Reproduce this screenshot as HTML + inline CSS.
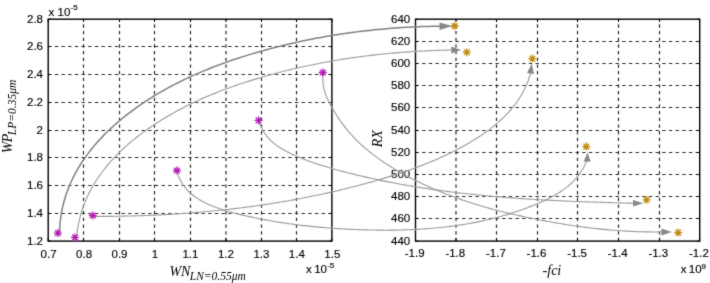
<!DOCTYPE html>
<html><head><meta charset="utf-8"><style>
html,body{margin:0;padding:0;background:#fff;}
body{width:710px;height:283px;overflow:hidden;}
svg{display:block;}
</style></head><body>
<svg width="710" height="283" viewBox="0 0 710 283">
<defs><filter id="bl" x="0" y="0" width="710" height="283" filterUnits="userSpaceOnUse"><feConvolveMatrix order="3" kernelMatrix="0.02 0.08 0.02 0.08 0.60 0.08 0.02 0.08 0.02" divisor="1" edgeMode="none"/></filter></defs>
<rect width="710" height="283" fill="#fff"/>
<g filter="url(#bl)">
<line x1="83.50" y1="241.10" x2="83.50" y2="19.20" stroke="#262626" stroke-width="1.2" stroke-dasharray="3.3 3.37"/>
<line x1="119.50" y1="241.10" x2="119.50" y2="19.20" stroke="#262626" stroke-width="1.2" stroke-dasharray="3.3 3.37"/>
<line x1="154.50" y1="241.10" x2="154.50" y2="19.20" stroke="#262626" stroke-width="1.2" stroke-dasharray="3.3 3.37"/>
<line x1="190.50" y1="241.10" x2="190.50" y2="19.20" stroke="#262626" stroke-width="1.2" stroke-dasharray="3.3 3.37"/>
<line x1="226.00" y1="241.10" x2="226.00" y2="19.20" stroke="#262626" stroke-width="1.2" stroke-dasharray="3.3 3.37"/>
<line x1="261.50" y1="241.10" x2="261.50" y2="19.20" stroke="#262626" stroke-width="1.2" stroke-dasharray="3.3 3.37"/>
<line x1="296.50" y1="241.10" x2="296.50" y2="19.20" stroke="#262626" stroke-width="1.2" stroke-dasharray="3.3 3.37"/>
<line x1="48.20" y1="213.50" x2="331.90" y2="213.50" stroke="#262626" stroke-width="1.2" stroke-dasharray="3.3 3.37"/>
<line x1="48.20" y1="185.50" x2="331.90" y2="185.50" stroke="#262626" stroke-width="1.2" stroke-dasharray="3.3 3.37"/>
<line x1="48.20" y1="157.50" x2="331.90" y2="157.50" stroke="#262626" stroke-width="1.2" stroke-dasharray="3.3 3.37"/>
<line x1="48.20" y1="130.50" x2="331.90" y2="130.50" stroke="#262626" stroke-width="1.2" stroke-dasharray="3.3 3.37"/>
<line x1="48.20" y1="102.50" x2="331.90" y2="102.50" stroke="#262626" stroke-width="1.2" stroke-dasharray="3.3 3.37"/>
<line x1="48.20" y1="74.50" x2="331.90" y2="74.50" stroke="#262626" stroke-width="1.2" stroke-dasharray="3.3 3.37"/>
<line x1="48.20" y1="46.50" x2="331.90" y2="46.50" stroke="#262626" stroke-width="1.2" stroke-dasharray="3.3 3.37"/>
<line x1="48.20" y1="241.10" x2="48.20" y2="238.30" stroke="#000" stroke-width="1"/>
<line x1="48.20" y1="19.20" x2="48.20" y2="22.00" stroke="#000" stroke-width="1"/>
<line x1="83.50" y1="241.10" x2="83.50" y2="238.30" stroke="#000" stroke-width="1"/>
<line x1="83.50" y1="19.20" x2="83.50" y2="22.00" stroke="#000" stroke-width="1"/>
<line x1="119.50" y1="241.10" x2="119.50" y2="238.30" stroke="#000" stroke-width="1"/>
<line x1="119.50" y1="19.20" x2="119.50" y2="22.00" stroke="#000" stroke-width="1"/>
<line x1="154.50" y1="241.10" x2="154.50" y2="238.30" stroke="#000" stroke-width="1"/>
<line x1="154.50" y1="19.20" x2="154.50" y2="22.00" stroke="#000" stroke-width="1"/>
<line x1="190.50" y1="241.10" x2="190.50" y2="238.30" stroke="#000" stroke-width="1"/>
<line x1="190.50" y1="19.20" x2="190.50" y2="22.00" stroke="#000" stroke-width="1"/>
<line x1="226.00" y1="241.10" x2="226.00" y2="238.30" stroke="#000" stroke-width="1"/>
<line x1="226.00" y1="19.20" x2="226.00" y2="22.00" stroke="#000" stroke-width="1"/>
<line x1="261.50" y1="241.10" x2="261.50" y2="238.30" stroke="#000" stroke-width="1"/>
<line x1="261.50" y1="19.20" x2="261.50" y2="22.00" stroke="#000" stroke-width="1"/>
<line x1="296.50" y1="241.10" x2="296.50" y2="238.30" stroke="#000" stroke-width="1"/>
<line x1="296.50" y1="19.20" x2="296.50" y2="22.00" stroke="#000" stroke-width="1"/>
<line x1="331.90" y1="241.10" x2="331.90" y2="238.30" stroke="#000" stroke-width="1"/>
<line x1="331.90" y1="19.20" x2="331.90" y2="22.00" stroke="#000" stroke-width="1"/>
<line x1="48.20" y1="241.10" x2="51.00" y2="241.10" stroke="#000" stroke-width="1"/>
<line x1="331.90" y1="241.10" x2="329.10" y2="241.10" stroke="#000" stroke-width="1"/>
<line x1="48.20" y1="213.50" x2="51.00" y2="213.50" stroke="#000" stroke-width="1"/>
<line x1="331.90" y1="213.50" x2="329.10" y2="213.50" stroke="#000" stroke-width="1"/>
<line x1="48.20" y1="185.50" x2="51.00" y2="185.50" stroke="#000" stroke-width="1"/>
<line x1="331.90" y1="185.50" x2="329.10" y2="185.50" stroke="#000" stroke-width="1"/>
<line x1="48.20" y1="157.50" x2="51.00" y2="157.50" stroke="#000" stroke-width="1"/>
<line x1="331.90" y1="157.50" x2="329.10" y2="157.50" stroke="#000" stroke-width="1"/>
<line x1="48.20" y1="130.50" x2="51.00" y2="130.50" stroke="#000" stroke-width="1"/>
<line x1="331.90" y1="130.50" x2="329.10" y2="130.50" stroke="#000" stroke-width="1"/>
<line x1="48.20" y1="102.50" x2="51.00" y2="102.50" stroke="#000" stroke-width="1"/>
<line x1="331.90" y1="102.50" x2="329.10" y2="102.50" stroke="#000" stroke-width="1"/>
<line x1="48.20" y1="74.50" x2="51.00" y2="74.50" stroke="#000" stroke-width="1"/>
<line x1="331.90" y1="74.50" x2="329.10" y2="74.50" stroke="#000" stroke-width="1"/>
<line x1="48.20" y1="46.50" x2="51.00" y2="46.50" stroke="#000" stroke-width="1"/>
<line x1="331.90" y1="46.50" x2="329.10" y2="46.50" stroke="#000" stroke-width="1"/>
<line x1="48.20" y1="19.20" x2="51.00" y2="19.20" stroke="#000" stroke-width="1"/>
<line x1="331.90" y1="19.20" x2="329.10" y2="19.20" stroke="#000" stroke-width="1"/>
<rect x="48.20" y="19.20" width="283.70" height="221.90" fill="none" stroke="#000" stroke-width="1.4"/>
<text x="48.60" y="257.5" text-anchor="middle" style="font-family:'Liberation Sans',Arial,sans-serif;font-size:11.5px;fill:#000;stroke:#000;stroke-width:0.15px">0.7</text>
<text x="84.06" y="257.5" text-anchor="middle" style="font-family:'Liberation Sans',Arial,sans-serif;font-size:11.5px;fill:#000;stroke:#000;stroke-width:0.15px">0.8</text>
<text x="119.52" y="257.5" text-anchor="middle" style="font-family:'Liberation Sans',Arial,sans-serif;font-size:11.5px;fill:#000;stroke:#000;stroke-width:0.15px">0.9</text>
<text x="154.99" y="257.5" text-anchor="middle" style="font-family:'Liberation Sans',Arial,sans-serif;font-size:11.5px;fill:#000;stroke:#000;stroke-width:0.15px">1</text>
<text x="190.45" y="257.5" text-anchor="middle" style="font-family:'Liberation Sans',Arial,sans-serif;font-size:11.5px;fill:#000;stroke:#000;stroke-width:0.15px">1.1</text>
<text x="225.91" y="257.5" text-anchor="middle" style="font-family:'Liberation Sans',Arial,sans-serif;font-size:11.5px;fill:#000;stroke:#000;stroke-width:0.15px">1.2</text>
<text x="261.38" y="257.5" text-anchor="middle" style="font-family:'Liberation Sans',Arial,sans-serif;font-size:11.5px;fill:#000;stroke:#000;stroke-width:0.15px">1.3</text>
<text x="296.84" y="257.5" text-anchor="middle" style="font-family:'Liberation Sans',Arial,sans-serif;font-size:11.5px;fill:#000;stroke:#000;stroke-width:0.15px">1.4</text>
<text x="332.30" y="257.5" text-anchor="middle" style="font-family:'Liberation Sans',Arial,sans-serif;font-size:11.5px;fill:#000;stroke:#000;stroke-width:0.15px">1.5</text>
<text x="43.00" y="244.60" text-anchor="end" style="font-family:'Liberation Sans',Arial,sans-serif;font-size:11.5px;fill:#000;stroke:#000;stroke-width:0.15px">1.2</text>
<text x="43.00" y="216.86" text-anchor="end" style="font-family:'Liberation Sans',Arial,sans-serif;font-size:11.5px;fill:#000;stroke:#000;stroke-width:0.15px">1.4</text>
<text x="43.00" y="189.12" text-anchor="end" style="font-family:'Liberation Sans',Arial,sans-serif;font-size:11.5px;fill:#000;stroke:#000;stroke-width:0.15px">1.6</text>
<text x="43.00" y="161.39" text-anchor="end" style="font-family:'Liberation Sans',Arial,sans-serif;font-size:11.5px;fill:#000;stroke:#000;stroke-width:0.15px">1.8</text>
<text x="43.00" y="133.65" text-anchor="end" style="font-family:'Liberation Sans',Arial,sans-serif;font-size:11.5px;fill:#000;stroke:#000;stroke-width:0.15px">2</text>
<text x="43.00" y="105.91" text-anchor="end" style="font-family:'Liberation Sans',Arial,sans-serif;font-size:11.5px;fill:#000;stroke:#000;stroke-width:0.15px">2.2</text>
<text x="43.00" y="78.17" text-anchor="end" style="font-family:'Liberation Sans',Arial,sans-serif;font-size:11.5px;fill:#000;stroke:#000;stroke-width:0.15px">2.4</text>
<text x="43.00" y="50.44" text-anchor="end" style="font-family:'Liberation Sans',Arial,sans-serif;font-size:11.5px;fill:#000;stroke:#000;stroke-width:0.15px">2.6</text>
<text x="43.00" y="22.70" text-anchor="end" style="font-family:'Liberation Sans',Arial,sans-serif;font-size:11.5px;fill:#000;stroke:#000;stroke-width:0.15px">2.8</text>
<line x1="456.00" y1="241.10" x2="456.00" y2="19.20" stroke="#262626" stroke-width="1.2" stroke-dasharray="3.3 3.37"/>
<line x1="496.50" y1="241.10" x2="496.50" y2="19.20" stroke="#262626" stroke-width="1.2" stroke-dasharray="3.3 3.37"/>
<line x1="537.50" y1="241.10" x2="537.50" y2="19.20" stroke="#262626" stroke-width="1.2" stroke-dasharray="3.3 3.37"/>
<line x1="577.50" y1="241.10" x2="577.50" y2="19.20" stroke="#262626" stroke-width="1.2" stroke-dasharray="3.3 3.37"/>
<line x1="618.50" y1="241.10" x2="618.50" y2="19.20" stroke="#262626" stroke-width="1.2" stroke-dasharray="3.3 3.37"/>
<line x1="659.50" y1="241.10" x2="659.50" y2="19.20" stroke="#262626" stroke-width="1.2" stroke-dasharray="3.3 3.37"/>
<line x1="415.50" y1="218.50" x2="699.70" y2="218.50" stroke="#262626" stroke-width="1.2" stroke-dasharray="3.3 3.37"/>
<line x1="415.50" y1="196.50" x2="699.70" y2="196.50" stroke="#262626" stroke-width="1.2" stroke-dasharray="3.3 3.37"/>
<line x1="415.50" y1="174.50" x2="699.70" y2="174.50" stroke="#262626" stroke-width="1.2" stroke-dasharray="3.3 3.37"/>
<line x1="415.50" y1="152.50" x2="699.70" y2="152.50" stroke="#262626" stroke-width="1.2" stroke-dasharray="3.3 3.37"/>
<line x1="415.50" y1="130.50" x2="699.70" y2="130.50" stroke="#262626" stroke-width="1.2" stroke-dasharray="3.3 3.37"/>
<line x1="415.50" y1="107.50" x2="699.70" y2="107.50" stroke="#262626" stroke-width="1.2" stroke-dasharray="3.3 3.37"/>
<line x1="415.50" y1="85.50" x2="699.70" y2="85.50" stroke="#262626" stroke-width="1.2" stroke-dasharray="3.3 3.37"/>
<line x1="415.50" y1="63.50" x2="699.70" y2="63.50" stroke="#262626" stroke-width="1.2" stroke-dasharray="3.3 3.37"/>
<line x1="415.50" y1="41.50" x2="699.70" y2="41.50" stroke="#262626" stroke-width="1.2" stroke-dasharray="3.3 3.37"/>
<line x1="415.50" y1="241.10" x2="415.50" y2="238.30" stroke="#000" stroke-width="1"/>
<line x1="415.50" y1="19.20" x2="415.50" y2="22.00" stroke="#000" stroke-width="1"/>
<line x1="456.00" y1="241.10" x2="456.00" y2="238.30" stroke="#000" stroke-width="1"/>
<line x1="456.00" y1="19.20" x2="456.00" y2="22.00" stroke="#000" stroke-width="1"/>
<line x1="496.50" y1="241.10" x2="496.50" y2="238.30" stroke="#000" stroke-width="1"/>
<line x1="496.50" y1="19.20" x2="496.50" y2="22.00" stroke="#000" stroke-width="1"/>
<line x1="537.50" y1="241.10" x2="537.50" y2="238.30" stroke="#000" stroke-width="1"/>
<line x1="537.50" y1="19.20" x2="537.50" y2="22.00" stroke="#000" stroke-width="1"/>
<line x1="577.50" y1="241.10" x2="577.50" y2="238.30" stroke="#000" stroke-width="1"/>
<line x1="577.50" y1="19.20" x2="577.50" y2="22.00" stroke="#000" stroke-width="1"/>
<line x1="618.50" y1="241.10" x2="618.50" y2="238.30" stroke="#000" stroke-width="1"/>
<line x1="618.50" y1="19.20" x2="618.50" y2="22.00" stroke="#000" stroke-width="1"/>
<line x1="659.50" y1="241.10" x2="659.50" y2="238.30" stroke="#000" stroke-width="1"/>
<line x1="659.50" y1="19.20" x2="659.50" y2="22.00" stroke="#000" stroke-width="1"/>
<line x1="699.70" y1="241.10" x2="699.70" y2="238.30" stroke="#000" stroke-width="1"/>
<line x1="699.70" y1="19.20" x2="699.70" y2="22.00" stroke="#000" stroke-width="1"/>
<line x1="415.50" y1="241.10" x2="418.30" y2="241.10" stroke="#000" stroke-width="1"/>
<line x1="699.70" y1="241.10" x2="696.90" y2="241.10" stroke="#000" stroke-width="1"/>
<line x1="415.50" y1="218.50" x2="418.30" y2="218.50" stroke="#000" stroke-width="1"/>
<line x1="699.70" y1="218.50" x2="696.90" y2="218.50" stroke="#000" stroke-width="1"/>
<line x1="415.50" y1="196.50" x2="418.30" y2="196.50" stroke="#000" stroke-width="1"/>
<line x1="699.70" y1="196.50" x2="696.90" y2="196.50" stroke="#000" stroke-width="1"/>
<line x1="415.50" y1="174.50" x2="418.30" y2="174.50" stroke="#000" stroke-width="1"/>
<line x1="699.70" y1="174.50" x2="696.90" y2="174.50" stroke="#000" stroke-width="1"/>
<line x1="415.50" y1="152.50" x2="418.30" y2="152.50" stroke="#000" stroke-width="1"/>
<line x1="699.70" y1="152.50" x2="696.90" y2="152.50" stroke="#000" stroke-width="1"/>
<line x1="415.50" y1="130.50" x2="418.30" y2="130.50" stroke="#000" stroke-width="1"/>
<line x1="699.70" y1="130.50" x2="696.90" y2="130.50" stroke="#000" stroke-width="1"/>
<line x1="415.50" y1="107.50" x2="418.30" y2="107.50" stroke="#000" stroke-width="1"/>
<line x1="699.70" y1="107.50" x2="696.90" y2="107.50" stroke="#000" stroke-width="1"/>
<line x1="415.50" y1="85.50" x2="418.30" y2="85.50" stroke="#000" stroke-width="1"/>
<line x1="699.70" y1="85.50" x2="696.90" y2="85.50" stroke="#000" stroke-width="1"/>
<line x1="415.50" y1="63.50" x2="418.30" y2="63.50" stroke="#000" stroke-width="1"/>
<line x1="699.70" y1="63.50" x2="696.90" y2="63.50" stroke="#000" stroke-width="1"/>
<line x1="415.50" y1="41.50" x2="418.30" y2="41.50" stroke="#000" stroke-width="1"/>
<line x1="699.70" y1="41.50" x2="696.90" y2="41.50" stroke="#000" stroke-width="1"/>
<line x1="415.50" y1="19.20" x2="418.30" y2="19.20" stroke="#000" stroke-width="1"/>
<line x1="699.70" y1="19.20" x2="696.90" y2="19.20" stroke="#000" stroke-width="1"/>
<rect x="415.50" y="19.20" width="284.20" height="221.90" fill="none" stroke="#000" stroke-width="1.4"/>
<text x="414.70" y="256.6" text-anchor="middle" style="font-family:'Liberation Sans',Arial,sans-serif;font-size:11.5px;fill:#000;stroke:#000;stroke-width:0.15px">-1.9</text>
<text x="455.30" y="256.6" text-anchor="middle" style="font-family:'Liberation Sans',Arial,sans-serif;font-size:11.5px;fill:#000;stroke:#000;stroke-width:0.15px">-1.8</text>
<text x="495.90" y="256.6" text-anchor="middle" style="font-family:'Liberation Sans',Arial,sans-serif;font-size:11.5px;fill:#000;stroke:#000;stroke-width:0.15px">-1.7</text>
<text x="536.50" y="256.6" text-anchor="middle" style="font-family:'Liberation Sans',Arial,sans-serif;font-size:11.5px;fill:#000;stroke:#000;stroke-width:0.15px">-1.6</text>
<text x="577.10" y="256.6" text-anchor="middle" style="font-family:'Liberation Sans',Arial,sans-serif;font-size:11.5px;fill:#000;stroke:#000;stroke-width:0.15px">-1.5</text>
<text x="617.70" y="256.6" text-anchor="middle" style="font-family:'Liberation Sans',Arial,sans-serif;font-size:11.5px;fill:#000;stroke:#000;stroke-width:0.15px">-1.4</text>
<text x="658.30" y="256.6" text-anchor="middle" style="font-family:'Liberation Sans',Arial,sans-serif;font-size:11.5px;fill:#000;stroke:#000;stroke-width:0.15px">-1.3</text>
<text x="698.90" y="256.6" text-anchor="middle" style="font-family:'Liberation Sans',Arial,sans-serif;font-size:11.5px;fill:#000;stroke:#000;stroke-width:0.15px">-1.2</text>
<text x="410.20" y="244.60" text-anchor="end" style="font-family:'Liberation Sans',Arial,sans-serif;font-size:11.5px;fill:#000;stroke:#000;stroke-width:0.15px">440</text>
<text x="410.20" y="222.41" text-anchor="end" style="font-family:'Liberation Sans',Arial,sans-serif;font-size:11.5px;fill:#000;stroke:#000;stroke-width:0.15px">460</text>
<text x="410.20" y="200.22" text-anchor="end" style="font-family:'Liberation Sans',Arial,sans-serif;font-size:11.5px;fill:#000;stroke:#000;stroke-width:0.15px">480</text>
<text x="410.20" y="178.03" text-anchor="end" style="font-family:'Liberation Sans',Arial,sans-serif;font-size:11.5px;fill:#000;stroke:#000;stroke-width:0.15px">500</text>
<text x="410.20" y="155.84" text-anchor="end" style="font-family:'Liberation Sans',Arial,sans-serif;font-size:11.5px;fill:#000;stroke:#000;stroke-width:0.15px">520</text>
<text x="410.20" y="133.65" text-anchor="end" style="font-family:'Liberation Sans',Arial,sans-serif;font-size:11.5px;fill:#000;stroke:#000;stroke-width:0.15px">540</text>
<text x="410.20" y="111.46" text-anchor="end" style="font-family:'Liberation Sans',Arial,sans-serif;font-size:11.5px;fill:#000;stroke:#000;stroke-width:0.15px">560</text>
<text x="410.20" y="89.27" text-anchor="end" style="font-family:'Liberation Sans',Arial,sans-serif;font-size:11.5px;fill:#000;stroke:#000;stroke-width:0.15px">580</text>
<text x="410.20" y="67.08" text-anchor="end" style="font-family:'Liberation Sans',Arial,sans-serif;font-size:11.5px;fill:#000;stroke:#000;stroke-width:0.15px">600</text>
<text x="410.20" y="44.89" text-anchor="end" style="font-family:'Liberation Sans',Arial,sans-serif;font-size:11.5px;fill:#000;stroke:#000;stroke-width:0.15px">620</text>
<text x="410.20" y="22.70" text-anchor="end" style="font-family:'Liberation Sans',Arial,sans-serif;font-size:11.5px;fill:#000;stroke:#000;stroke-width:0.15px">640</text>
<text x="48.4" y="15.5" style="font-family:'Liberation Sans',Arial,sans-serif;font-size:11.5px;fill:#000;stroke:#000;stroke-width:0.15px">x</text>
<text x="57.5" y="15.5" style="font-family:'Liberation Sans',Arial,sans-serif;font-size:11.5px;fill:#000;stroke:#000;stroke-width:0.15px">10</text>
<text x="70.5" y="9.8" style="font-family:'Liberation Sans',Arial,sans-serif;font-size:11.5px;fill:#000;stroke:#000;stroke-width:0.15px;font-size:8px">-5</text>
<text x="306.0" y="273.2" style="font-family:'Liberation Sans',Arial,sans-serif;font-size:11.5px;fill:#000;stroke:#000;stroke-width:0.15px">x</text>
<text x="314.2" y="273.2" style="font-family:'Liberation Sans',Arial,sans-serif;font-size:11.5px;fill:#000;stroke:#000;stroke-width:0.15px">10</text>
<text x="327.2" y="268.2" style="font-family:'Liberation Sans',Arial,sans-serif;font-size:11.5px;fill:#000;stroke:#000;stroke-width:0.15px;font-size:8px">-5</text>
<text x="680.8" y="272.9" style="font-family:'Liberation Sans',Arial,sans-serif;font-size:11.5px;fill:#000;stroke:#000;stroke-width:0.15px">x</text>
<text x="688.8" y="272.9" style="font-family:'Liberation Sans',Arial,sans-serif;font-size:11.5px;fill:#000;stroke:#000;stroke-width:0.15px">10</text>
<text x="701.4" y="268.8" style="font-family:'Liberation Sans',Arial,sans-serif;font-size:11.5px;fill:#000;stroke:#000;stroke-width:0.15px;font-size:8px">9</text>
<text x="169.4" y="275.8" style="font-family:'Liberation Serif','Times New Roman',serif;font-style:italic;fill:#000;font-size:14px">WN<tspan dx="-0.6" dy="4.2" style="font-size:11.5px">LN=0.55μm</tspan></text>
<text transform="translate(11.6,153.2) rotate(-90)" style="font-family:'Liberation Serif','Times New Roman',serif;font-style:italic;fill:#000;font-size:14px">W<tspan dx="-0.6">P</tspan><tspan dx="-1.6" dy="4.2" style="font-size:11.5px">LP=0.35μm</tspan></text>
<text x="542.6" y="274.6" style="font-family:'Liberation Serif','Times New Roman',serif;font-style:italic;fill:#000;font-size:14px">-fci</text>
<text transform="translate(381.8,147.2) rotate(-90)" style="font-family:'Liberation Serif','Times New Roman',serif;font-style:italic;fill:#000;font-size:14px">RX</text>
<path d="M59.52,230.05 L59.67,227.39 L59.87,224.76 L60.12,222.14 L60.42,219.55 L60.77,216.98 L61.16,214.43 L61.61,211.90 L62.11,209.40 L62.65,206.91 L63.24,204.45 L63.87,202.01 L64.55,199.59 L65.27,197.19 L66.04,194.82 L66.85,192.46 L67.70,190.12 L68.59,187.81 L69.53,185.52 L70.50,183.25 L71.52,181.00 L72.57,178.77 L73.66,176.56 L74.79,174.37 L75.96,172.20 L77.16,170.05 L78.40,167.93 L79.67,165.82 L80.98,163.73 L82.32,161.67 L83.69,159.62 L85.09,157.60 L86.53,155.59 L88.00,153.61 L89.50,151.64 L91.03,149.70 L92.58,147.77 L94.17,145.86 L95.78,143.98 L97.42,142.11 L99.08,140.27 L100.77,138.44 L102.49,136.63 L104.23,134.84 L105.99,133.07 L107.78,131.32 L109.58,129.59 L111.41,127.88 L113.26,126.19 L115.13,124.52 L117.02,122.86 L118.93,121.23 L120.85,119.61 L122.80,118.01 L124.76,116.44 L126.73,114.88 L128.72,113.33 L130.73,111.81 L132.75,110.31 L134.78,108.82 L136.83,107.35 L138.89,105.90 L140.96,104.47 L143.04,103.06 L145.14,101.66 L147.25,100.28 L149.37,98.92 L151.50,97.58 L153.64,96.25 L155.79,94.94 L157.96,93.65 L160.13,92.37 L162.32,91.11 L164.52,89.87 L166.72,88.64 L168.94,87.43 L171.16,86.24 L173.40,85.06 L175.64,83.90 L177.89,82.75 L180.16,81.62 L182.43,80.50 L184.71,79.40 L186.99,78.31 L189.29,77.24 L191.59,76.18 L193.90,75.14 L196.22,74.11 L198.55,73.10 L200.88,72.10 L203.22,71.12 L205.56,70.14 L207.91,69.19 L210.27,68.24 L212.63,67.31 L215.00,66.39 L217.38,65.49 L219.76,64.60 L222.15,63.72 L224.54,62.85 L226.93,62.00 L229.33,61.16 L231.73,60.33 L234.14,59.51 L236.55,58.71 L238.97,57.92 L241.39,57.13 L243.81,56.37 L246.23,55.61 L248.66,54.86 L251.09,54.13 L253.53,53.40 L255.96,52.69 L258.40,51.98 L260.84,51.29 L263.28,50.61 L265.72,49.94 L268.16,49.28 L270.60,48.63 L273.05,47.98 L275.49,47.35 L277.94,46.73 L280.39,46.12 L282.84,45.52 L285.28,44.92 L287.73,44.34 L290.18,43.77 L292.64,43.20 L295.09,42.65 L297.54,42.11 L300.00,41.57 L302.45,41.05 L304.91,40.53 L307.37,40.03 L309.82,39.53 L312.28,39.04 L314.74,38.57 L317.20,38.10 L319.67,37.64 L322.13,37.19 L324.60,36.75 L327.06,36.32 L329.53,35.90 L332.00,35.48 L334.47,35.08 L336.94,34.69 L339.41,34.30 L341.88,33.93 L344.36,33.56 L346.83,33.21 L349.31,32.86 L351.79,32.52 L354.27,32.19 L356.75,31.87 L359.23,31.56 L361.71,31.25 L364.20,30.96 L366.69,30.68 L369.17,30.40 L371.66,30.13 L374.16,29.87 L376.65,29.62 L379.14,29.38 L381.64,29.15 L384.13,28.93 L386.63,28.71 L389.13,28.51 L391.63,28.31 L394.14,28.12 L396.64,27.94 L399.15,27.77 L401.66,27.61 L404.17,27.46 L406.68,27.31 L409.19,27.17 L411.71,27.04 L414.23,26.92 L416.74,26.81 L419.26,26.71 L421.79,26.61 L424.31,26.53 L426.84,26.45 L429.36,26.38 L431.89,26.32 L434.43,26.26 L436.96,26.22 L439.49,26.18" fill="none" stroke="#808080" stroke-width="1.5" stroke-linecap="round"/>
<polygon points="452.30,26.10 439.52,29.93 439.47,22.43" fill="#888"/>
<path d="M76.75,236.04 L77.03,233.39 L77.36,230.77 L77.75,228.17 L78.19,225.61 L78.68,223.06 L79.22,220.55 L79.81,218.06 L80.46,215.59 L81.15,213.16 L81.89,210.74 L82.67,208.36 L83.51,205.99 L84.39,203.65 L85.31,201.34 L86.28,199.05 L87.29,196.79 L88.35,194.55 L89.45,192.34 L90.58,190.15 L91.76,187.98 L92.98,185.84 L94.23,183.72 L95.53,181.62 L96.86,179.55 L98.22,177.50 L99.62,175.47 L101.06,173.47 L102.53,171.49 L104.03,169.53 L105.57,167.60 L107.13,165.68 L108.73,163.79 L110.36,161.93 L112.01,160.08 L113.69,158.26 L115.40,156.45 L117.14,154.67 L118.90,152.91 L120.69,151.17 L122.50,149.46 L124.34,147.76 L126.19,146.08 L128.07,144.43 L129.97,142.79 L131.89,141.18 L133.83,139.58 L135.78,138.01 L137.76,136.46 L139.75,134.92 L141.76,133.41 L143.78,131.91 L145.81,130.44 L147.86,128.98 L149.93,127.54 L152.00,126.12 L154.09,124.72 L156.20,123.34 L158.31,121.98 L160.44,120.63 L162.58,119.31 L164.73,118.00 L166.90,116.71 L169.07,115.43 L171.26,114.18 L173.46,112.94 L175.66,111.72 L177.88,110.51 L180.11,109.32 L182.35,108.15 L184.60,106.99 L186.85,105.85 L189.12,104.73 L191.40,103.62 L193.68,102.53 L195.97,101.45 L198.28,100.39 L200.59,99.35 L202.90,98.32 L205.23,97.30 L207.56,96.30 L209.90,95.31 L212.25,94.34 L214.60,93.38 L216.96,92.44 L219.32,91.51 L221.69,90.59 L224.07,89.69 L226.45,88.80 L228.84,87.93 L231.23,87.06 L233.63,86.21 L236.03,85.38 L238.43,84.55 L240.84,83.74 L243.26,82.94 L245.67,82.15 L248.09,81.37 L250.52,80.61 L252.94,79.86 L255.37,79.11 L257.80,78.38 L260.23,77.66 L262.67,76.96 L265.10,76.26 L267.54,75.57 L269.98,74.90 L272.41,74.23 L274.85,73.57 L277.29,72.93 L279.73,72.29 L282.18,71.66 L284.62,71.05 L287.06,70.44 L289.51,69.85 L291.95,69.26 L294.40,68.68 L296.85,68.12 L299.29,67.56 L301.74,67.01 L304.19,66.47 L306.65,65.94 L309.10,65.43 L311.55,64.92 L314.01,64.42 L316.46,63.93 L318.92,63.44 L321.38,62.97 L323.84,62.51 L326.30,62.06 L328.76,61.61 L331.22,61.17 L333.69,60.75 L336.15,60.33 L338.62,59.92 L341.09,59.52 L343.55,59.13 L346.03,58.75 L348.50,58.38 L350.97,58.01 L353.45,57.65 L355.92,57.31 L358.40,56.97 L360.88,56.64 L363.36,56.32 L365.84,56.00 L368.33,55.70 L370.81,55.40 L373.30,55.11 L375.79,54.83 L378.28,54.56 L380.77,54.29 L383.26,54.04 L385.76,53.79 L388.26,53.55 L390.76,53.32 L393.26,53.09 L395.76,52.88 L398.26,52.67 L400.77,52.47 L403.28,52.27 L405.79,52.09 L408.30,51.91 L410.81,51.74 L413.33,51.57 L415.84,51.42 L418.36,51.27 L420.89,51.13 L423.41,51.00 L425.93,50.87 L428.46,50.75 L430.99,50.64 L433.52,50.53 L436.06,50.43 L438.59,50.34 L441.13,50.26 L443.67,50.18 L446.21,50.11 L448.76,50.05 L451.30,49.99" fill="none" stroke="#999999" stroke-width="1.1" stroke-linecap="round"/>
<polygon points="461.00,50.00 451.30,53.49 451.30,46.49" fill="#888"/>
<path d="M93.99,216.43 L96.52,216.43 L99.05,216.42 L101.58,216.42 L104.11,216.40 L106.64,216.38 L109.17,216.36 L111.70,216.33 L114.22,216.30 L116.75,216.26 L119.28,216.22 L121.80,216.17 L124.33,216.12 L126.85,216.07 L129.38,216.00 L131.90,215.94 L134.42,215.87 L136.94,215.79 L139.47,215.71 L141.99,215.62 L144.51,215.53 L147.03,215.44 L149.55,215.33 L152.07,215.23 L154.59,215.12 L157.10,215.00 L159.62,214.88 L162.14,214.75 L164.65,214.62 L167.17,214.48 L169.68,214.33 L172.20,214.18 L174.71,214.03 L177.22,213.87 L179.74,213.71 L182.25,213.53 L184.76,213.36 L187.27,213.18 L189.78,212.99 L192.29,212.79 L194.80,212.60 L197.30,212.39 L199.81,212.18 L202.32,211.96 L204.82,211.74 L207.33,211.52 L209.83,211.28 L212.33,211.04 L214.84,210.80 L217.34,210.55 L219.84,210.29 L222.34,210.03 L224.84,209.76 L227.34,209.48 L229.83,209.20 L232.33,208.91 L234.83,208.62 L237.32,208.32 L239.82,208.01 L242.31,207.70 L244.80,207.38 L247.30,207.06 L249.79,206.73 L252.28,206.39 L254.77,206.04 L257.26,205.69 L259.74,205.34 L262.23,204.97 L264.72,204.60 L267.20,204.23 L269.69,203.85 L272.17,203.46 L274.65,203.06 L277.13,202.66 L279.61,202.25 L282.09,201.83 L284.57,201.41 L287.05,200.98 L289.53,200.54 L292.00,200.10 L294.48,199.65 L296.95,199.19 L299.43,198.73 L301.90,198.26 L304.37,197.78 L306.84,197.30 L309.31,196.80 L311.78,196.30 L314.24,195.80 L316.71,195.29 L319.18,194.77 L321.64,194.24 L324.10,193.70 L326.56,193.16 L329.03,192.61 L331.49,192.06 L333.94,191.49 L336.40,190.92 L338.86,190.34 L341.31,189.76 L343.77,189.16 L346.22,188.56 L348.68,187.95 L351.13,187.34 L353.58,186.71 L356.03,186.08 L358.47,185.44 L360.92,184.80 L363.37,184.14 L365.81,183.48 L368.25,182.81 L370.70,182.13 L373.14,181.45 L375.58,180.75 L378.01,180.05 L380.45,179.34 L382.88,178.62 L385.32,177.89 L387.74,177.15 L390.17,176.40 L392.59,175.64 L395.01,174.87 L397.42,174.09 L399.83,173.30 L402.24,172.50 L404.64,171.68 L407.04,170.85 L409.43,170.01 L411.82,169.16 L414.20,168.30 L416.58,167.42 L418.94,166.53 L421.31,165.62 L423.66,164.70 L426.01,163.77 L428.36,162.82 L430.69,161.86 L433.02,160.88 L435.34,159.89 L437.65,158.88 L439.96,157.85 L442.25,156.81 L444.54,155.75 L446.82,154.68 L449.09,153.58 L451.34,152.47 L453.59,151.35 L455.83,150.20 L458.06,149.03 L460.28,147.85 L462.49,146.65 L464.68,145.43 L466.87,144.19 L469.04,142.92 L471.20,141.64 L473.35,140.34 L475.48,139.02 L477.60,137.67 L479.71,136.30 L481.79,134.91 L483.86,133.50 L485.90,132.05 L487.92,130.59 L489.92,129.09 L491.90,127.57 L493.84,126.02 L495.76,124.45 L497.65,122.84 L499.51,121.20 L501.34,119.53 L503.13,117.83 L504.89,116.10 L506.61,114.34 L508.29,112.54 L509.94,110.70 L511.54,108.83 L513.10,106.93 L514.62,104.99 L516.10,103.01 L517.52,100.99 L518.90,98.93 L520.24,96.83 L521.52,94.69 L522.75,92.51 L523.92,90.29 L525.04,88.03 L526.11,85.72 L527.11,83.37 L528.06,80.97 L528.95,78.53 L529.78,76.04 L530.54,73.51" fill="none" stroke="#999999" stroke-width="1.1" stroke-linecap="round"/>
<polygon points="531.70,63.60 534.02,73.91 527.06,73.10" fill="#888"/>
<path d="M177.45,173.02 L178.30,175.53 L179.27,177.93 L180.36,180.21 L181.56,182.40 L182.87,184.48 L184.29,186.46 L185.80,188.34 L187.40,190.14 L189.10,191.85 L190.88,193.47 L192.73,195.01 L194.66,196.48 L196.66,197.87 L198.71,199.20 L200.83,200.46 L203.00,201.65 L205.21,202.79 L207.47,203.88 L209.77,204.91 L212.09,205.90 L214.45,206.84 L216.84,207.74 L219.25,208.60 L221.68,209.42 L224.13,210.20 L226.61,210.96 L229.09,211.68 L231.59,212.37 L234.10,213.03 L236.61,213.68 L239.13,214.30 L241.65,214.90 L244.17,215.48 L246.69,216.05 L249.20,216.61 L251.71,217.15 L254.22,217.68 L256.73,218.19 L259.23,218.70 L261.73,219.18 L264.23,219.66 L266.73,220.12 L269.22,220.57 L271.71,221.01 L274.20,221.43 L276.69,221.84 L279.18,222.24 L281.67,222.63 L284.15,223.01 L286.64,223.37 L289.12,223.72 L291.61,224.07 L294.09,224.40 L296.57,224.72 L299.05,225.03 L301.53,225.33 L304.02,225.61 L306.50,225.89 L308.98,226.16 L311.47,226.42 L313.95,226.67 L316.44,226.90 L318.92,227.13 L321.41,227.35 L323.90,227.56 L326.39,227.77 L328.88,227.96 L331.38,228.14 L333.87,228.32 L336.37,228.49 L338.87,228.65 L341.37,228.80 L343.88,228.94 L346.38,229.08 L348.89,229.21 L351.41,229.33 L353.92,229.45 L356.44,229.55 L358.96,229.65 L361.49,229.74 L364.02,229.83 L366.54,229.90 L369.08,229.97 L371.61,230.03 L374.14,230.07 L376.68,230.11 L379.22,230.14 L381.76,230.16 L384.30,230.18 L386.84,230.18 L389.38,230.17 L391.92,230.15 L394.47,230.12 L397.01,230.08 L399.55,230.03 L402.10,229.96 L404.64,229.89 L407.19,229.80 L409.73,229.70 L412.27,229.60 L414.81,229.47 L417.36,229.34 L419.90,229.19 L422.44,229.03 L424.98,228.86 L427.51,228.68 L430.05,228.48 L432.58,228.27 L435.11,228.04 L437.64,227.80 L440.17,227.55 L442.70,227.28 L445.22,226.99 L447.74,226.70 L450.26,226.38 L452.77,226.06 L455.29,225.71 L457.80,225.36 L460.30,224.98 L462.80,224.59 L465.30,224.18 L467.80,223.76 L470.29,223.32 L472.77,222.87 L475.26,222.39 L477.74,221.90 L480.21,221.39 L482.68,220.87 L485.14,220.33 L487.60,219.77 L490.06,219.19 L492.50,218.59 L494.95,217.97 L497.39,217.34 L499.82,216.68 L502.24,216.01 L504.67,215.32 L507.08,214.61 L509.49,213.88 L511.89,213.13 L514.28,212.35 L516.67,211.56 L519.05,210.75 L521.43,209.92 L523.79,209.06 L526.15,208.19 L528.51,207.29 L530.85,206.37 L533.19,205.43 L535.52,204.47 L537.84,203.49 L540.15,202.48 L542.45,201.45 L544.74,200.39 L547.01,199.30 L549.26,198.18 L551.49,197.02 L553.69,195.82 L555.86,194.58 L558.00,193.30 L560.10,191.97 L562.17,190.58 L564.19,189.15 L566.17,187.65 L568.09,186.10 L569.97,184.49 L571.79,182.81 L573.56,181.06 L575.26,179.24 L576.90,177.35 L578.47,175.38 L579.97,173.33 L581.39,171.19 L582.74,168.97 L584.01,166.67 L585.20,164.27 L586.29,161.78" fill="none" stroke="#999999" stroke-width="1.1" stroke-linecap="round"/>
<polygon points="587.50,152.40 590.70,161.71 583.70,161.49" fill="#888"/>
<path d="M259.45,122.52 L260.32,124.98 L261.30,127.33 L262.41,129.57 L263.64,131.71 L264.97,133.74 L266.41,135.69 L267.95,137.54 L269.58,139.30 L271.30,140.98 L273.10,142.59 L274.97,144.12 L276.92,145.58 L278.93,146.97 L280.99,148.31 L283.11,149.58 L285.28,150.80 L287.49,151.98 L289.74,153.10 L292.02,154.19 L294.32,155.24 L296.64,156.26 L298.98,157.25 L301.33,158.21 L303.68,159.15 L306.06,160.06 L308.44,160.95 L310.83,161.82 L313.23,162.66 L315.64,163.48 L318.05,164.28 L320.48,165.07 L322.91,165.83 L325.35,166.58 L327.79,167.31 L330.24,168.02 L332.69,168.72 L335.15,169.41 L337.61,170.08 L340.07,170.74 L342.53,171.39 L345.00,172.03 L347.47,172.67 L349.93,173.29 L352.40,173.90 L354.87,174.51 L357.34,175.10 L359.81,175.69 L362.28,176.27 L364.75,176.84 L367.22,177.40 L369.70,177.96 L372.17,178.50 L374.64,179.04 L377.12,179.57 L379.59,180.09 L382.07,180.60 L384.55,181.11 L387.03,181.60 L389.50,182.09 L391.98,182.57 L394.46,183.05 L396.94,183.51 L399.43,183.97 L401.91,184.42 L404.39,184.87 L406.87,185.30 L409.36,185.73 L411.84,186.15 L414.33,186.57 L416.81,186.97 L419.30,187.37 L421.79,187.77 L424.28,188.15 L426.77,188.53 L429.26,188.91 L431.75,189.27 L434.24,189.63 L436.73,189.99 L439.22,190.33 L441.71,190.67 L444.21,191.01 L446.70,191.34 L449.20,191.66 L451.69,191.97 L454.19,192.28 L456.69,192.59 L459.18,192.89 L461.68,193.18 L464.18,193.46 L466.68,193.74 L469.18,194.02 L471.68,194.29 L474.18,194.55 L476.69,194.81 L479.19,195.06 L481.69,195.31 L484.20,195.56 L486.70,195.79 L489.21,196.03 L491.71,196.25 L494.22,196.48 L496.73,196.69 L499.24,196.91 L501.74,197.12 L504.25,197.32 L506.76,197.52 L509.27,197.71 L511.78,197.90 L514.30,198.09 L516.81,198.27 L519.32,198.45 L521.83,198.62 L524.35,198.79 L526.86,198.96 L529.38,199.12 L531.89,199.28 L534.41,199.43 L536.93,199.58 L539.45,199.72 L541.96,199.87 L544.48,200.01 L547.00,200.14 L549.52,200.27 L552.04,200.40 L554.56,200.53 L557.09,200.65 L559.61,200.77 L562.13,200.89 L564.66,201.00 L567.18,201.11 L569.70,201.22 L572.23,201.32 L574.76,201.43 L577.28,201.53 L579.81,201.62 L582.34,201.72 L584.87,201.81 L587.39,201.90 L589.92,201.99 L592.45,202.07 L594.98,202.16 L597.51,202.24 L600.05,202.32 L602.58,202.39 L605.11,202.47 L607.64,202.54 L610.18,202.62 L612.71,202.69 L615.25,202.75 L617.78,202.82 L620.32,202.89 L622.85,202.95 L625.39,203.02 L627.93,203.08 L630.47,203.14 L633.00,203.20" fill="none" stroke="#999999" stroke-width="1.1" stroke-linecap="round"/>
<polygon points="643.20,203.20 633.00,206.45 633.01,199.95" fill="#888"/>
<path d="M323.00,74.50 L322.81,77.12 L322.78,79.71 L322.91,82.25 L323.20,84.75 L323.62,87.21 L324.17,89.64 L324.85,92.03 L325.63,94.38 L326.52,96.70 L327.50,99.00 L328.56,101.26 L329.69,103.50 L330.88,105.71 L332.12,107.91 L333.39,110.10 L334.69,112.26 L336.03,114.42 L337.40,116.55 L338.81,118.66 L340.25,120.75 L341.73,122.82 L343.24,124.86 L344.78,126.87 L346.36,128.85 L347.96,130.80 L349.60,132.71 L351.27,134.60 L352.98,136.45 L354.71,138.27 L356.47,140.06 L358.26,141.82 L360.07,143.55 L361.92,145.25 L363.79,146.93 L365.68,148.57 L367.60,150.19 L369.54,151.78 L371.51,153.34 L373.49,154.88 L375.50,156.39 L377.53,157.88 L379.58,159.34 L381.64,160.78 L383.72,162.20 L385.83,163.59 L387.94,164.96 L390.08,166.31 L392.22,167.63 L394.38,168.94 L396.56,170.22 L398.74,171.49 L400.94,172.74 L403.15,173.96 L405.37,175.17 L407.60,176.37 L409.83,177.54 L412.08,178.70 L414.33,179.84 L416.59,180.96 L418.85,182.07 L421.12,183.17 L423.40,184.24 L425.69,185.30 L427.98,186.35 L430.28,187.38 L432.59,188.39 L434.90,189.39 L437.22,190.37 L439.54,191.34 L441.87,192.29 L444.21,193.22 L446.55,194.15 L448.90,195.05 L451.25,195.95 L453.61,196.83 L455.98,197.69 L458.35,198.54 L460.72,199.38 L463.10,200.20 L465.49,201.00 L467.88,201.80 L470.27,202.58 L472.67,203.35 L475.08,204.10 L477.48,204.84 L479.90,205.57 L482.31,206.28 L484.73,206.99 L487.16,207.67 L489.58,208.35 L492.01,209.02 L494.45,209.67 L496.89,210.31 L499.33,210.94 L501.77,211.56 L504.22,212.17 L506.67,212.77 L509.12,213.36 L511.58,213.94 L514.04,214.50 L516.50,215.06 L518.96,215.61 L521.43,216.15 L523.89,216.69 L526.36,217.21 L528.83,217.72 L531.30,218.23 L533.78,218.73 L536.25,219.22 L538.73,219.71 L541.20,220.19 L543.68,220.66 L546.16,221.12 L548.64,221.57 L551.12,222.02 L553.61,222.46 L556.09,222.89 L558.58,223.31 L561.06,223.73 L563.55,224.13 L566.04,224.53 L568.53,224.92 L571.02,225.30 L573.51,225.67 L576.00,226.03 L578.50,226.38 L580.99,226.73 L583.49,227.06 L585.99,227.38 L588.48,227.70 L590.98,228.00 L593.49,228.29 L595.99,228.58 L598.49,228.85 L600.99,229.11 L603.50,229.36 L606.00,229.60 L608.51,229.83 L611.02,230.05 L613.53,230.26 L616.04,230.46 L618.55,230.64 L621.06,230.81 L623.58,230.98 L626.09,231.13 L628.61,231.26 L631.12,231.39 L633.64,231.50 L636.16,231.60 L638.68,231.69 L641.20,231.76 L643.72,231.83 L646.24,231.88 L648.77,231.91 L651.29,231.94 L653.82,231.95 L656.34,231.94 L658.87,231.92 L661.40,231.89" fill="none" stroke="#999999" stroke-width="1.1" stroke-linecap="round"/>
<polygon points="672.00,232.00 661.37,235.39 661.44,228.39" fill="#888"/>
<path d="M53.90,233.10L61.90,233.10M55.07,230.27L60.73,235.93M57.90,229.10L57.90,237.10M60.73,230.27L55.07,235.93" stroke="#b31bb3" stroke-width="1.3" fill="none"/>
<path d="M71.00,237.40L79.00,237.40M72.17,234.57L77.83,240.23M75.00,233.40L75.00,241.40M77.83,234.57L72.17,240.23" stroke="#b31bb3" stroke-width="1.3" fill="none"/>
<path d="M88.80,215.50L96.80,215.50M89.97,212.67L95.63,218.33M92.80,211.50L92.80,219.50M95.63,212.67L89.97,218.33" stroke="#b31bb3" stroke-width="1.3" fill="none"/>
<path d="M172.90,170.50L180.90,170.50M174.07,167.67L179.73,173.33M176.90,166.50L176.90,174.50M179.73,167.67L174.07,173.33" stroke="#b31bb3" stroke-width="1.3" fill="none"/>
<path d="M254.60,120.40L262.60,120.40M255.77,117.57L261.43,123.23M258.60,116.40L258.60,124.40M261.43,117.57L255.77,123.23" stroke="#b31bb3" stroke-width="1.3" fill="none"/>
<path d="M318.80,72.50L326.80,72.50M319.97,69.67L325.63,75.33M322.80,68.50L322.80,76.50M325.63,69.67L319.97,75.33" stroke="#b31bb3" stroke-width="1.3" fill="none"/>
<path d="M450.60,26.00L458.60,26.00M451.77,23.17L457.43,28.83M454.60,22.00L454.60,30.00M457.43,23.17L451.77,28.83" stroke="#bf8a14" stroke-width="1.3" fill="none"/>
<path d="M462.80,52.20L470.80,52.20M463.97,49.37L469.63,55.03M466.80,48.20L466.80,56.20M469.63,49.37L463.97,55.03" stroke="#bf8a14" stroke-width="1.3" fill="none"/>
<path d="M528.30,58.60L536.30,58.60M529.47,55.77L535.13,61.43M532.30,54.60L532.30,62.60M535.13,55.77L529.47,61.43" stroke="#bf8a14" stroke-width="1.3" fill="none"/>
<path d="M582.30,146.60L590.30,146.60M583.47,143.77L589.13,149.43M586.30,142.60L586.30,150.60M589.13,143.77L583.47,149.43" stroke="#bf8a14" stroke-width="1.3" fill="none"/>
<path d="M642.60,199.80L650.60,199.80M643.77,196.97L649.43,202.63M646.60,195.80L646.60,203.80M649.43,196.97L643.77,202.63" stroke="#bf8a14" stroke-width="1.3" fill="none"/>
<path d="M674.20,232.60L682.20,232.60M675.37,229.77L681.03,235.43M678.20,228.60L678.20,236.60M681.03,229.77L675.37,235.43" stroke="#bf8a14" stroke-width="1.3" fill="none"/>
</g>
</svg>
</body></html>
